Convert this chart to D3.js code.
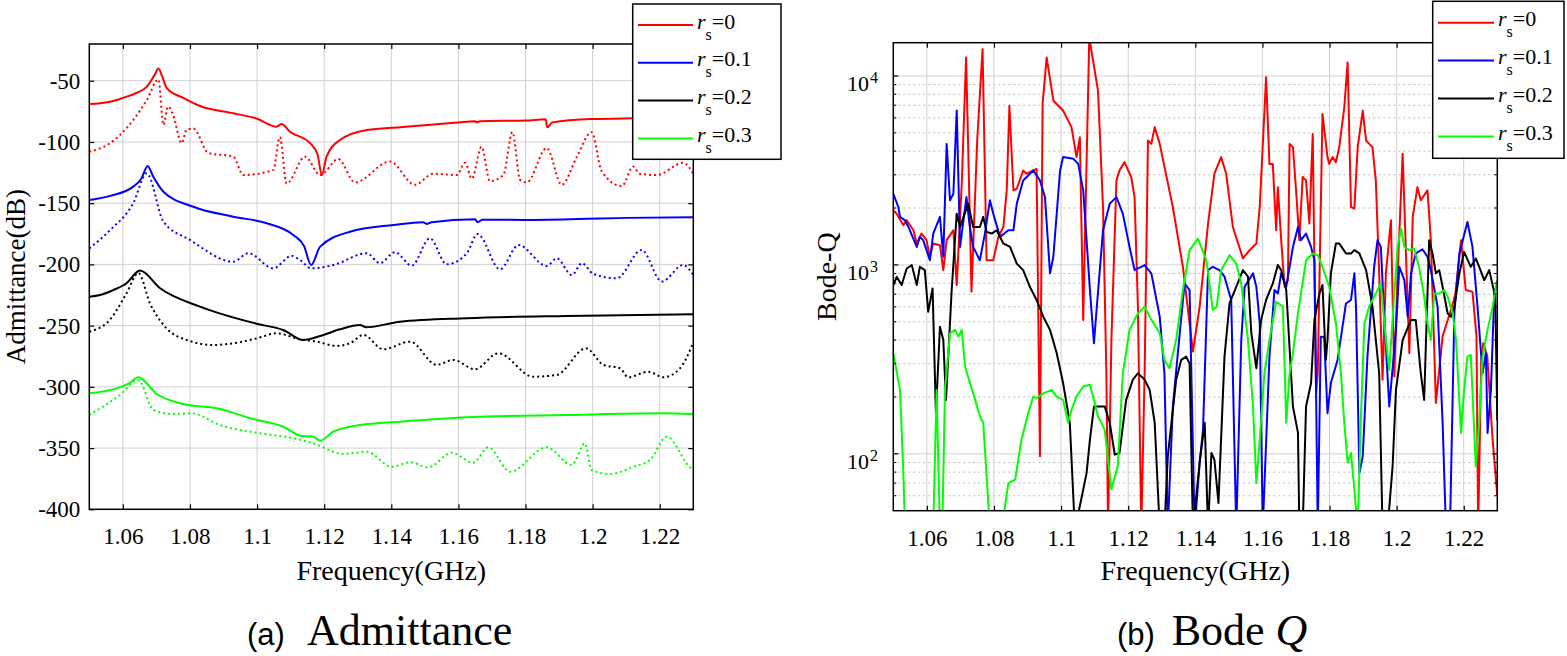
<!DOCTYPE html>
<html>
<head>
<meta charset="utf-8">
<script src="https://cdn.jsdelivr.net/npm/d3@7"></script>
<style>
body { margin: 0; background: #fff; }
</style>
</head>
<body>
<div id="chart"></div>
<script>
// ---- data ----
var freqTicks = [1.06, 1.08, 1.1, 1.12, 1.14, 1.16, 1.18, 1.2, 1.22];
var freqTickLabels = ["1.06", "1.08", "1.1", "1.12", "1.14", "1.16", "1.18", "1.2", "1.22"];
var admTicks = [-400, -350, -300, -250, -200, -150, -100, -50];
var admTickLabels = ["-400", "-350", "-300", "-250", "-200", "-150", "-100", "-50"];
var qTicks = [100, 1000, 10000];
var qTickExp = ["2", "3", "4"];
var rsLabels = ["0", "0.1", "0.2", "0.3"];
var rsColors = ["#ff0000", "#0000ff", "#000000", "#00ff00"];

// (a) admittance, [GHz, dB]; solid and dotted curve per r_s
var adm0 = [[1.05,-69],[1.0532,-68.4],[1.0582,-65.7],[1.06,-64],[1.064,-60],[1.0671,-55],[1.0695,-45],[1.0706,-40],[1.0718,-47],[1.0731,-56],[1.078,-64],[1.083,-70.6],[1.0929,-76.6],[1.1,-81],[1.1058,-87.5],[1.1073,-85.4],[1.1098,-91.6],[1.1158,-101],[1.118,-110],[1.1193,-127],[1.1207,-112],[1.1247,-98.4],[1.1327,-90.2],[1.1426,-88],[1.1625,-83.5],[1.165,-83],[1.1655,-84],[1.1665,-83],[1.18,-82.5],[1.186,-81.5],[1.1865,-88],[1.188,-84],[1.1997,-81.3],[1.215,-80.5],[1.23,-79.4]];
var adm0dot = [[1.05,-108],[1.0562,-101],[1.0631,-82],[1.0671,-66],[1.0706,-49],[1.0721,-86],[1.0735,-71],[1.075,-78],[1.0775,-101],[1.079,-90],[1.081,-89],[1.0855,-109],[1.0929,-112],[1.0959,-127],[1.1048,-123],[1.1068,-96],[1.1088,-134],[1.1143,-112],[1.1188,-127],[1.1242,-114],[1.1292,-133],[1.1396,-116],[1.147,-135],[1.1525,-126],[1.1595,-127],[1.162,-117],[1.164,-130],[1.1669,-104],[1.1694,-132],[1.1734,-127],[1.1761,-92],[1.1784,-131],[1.1804,-133],[1.1863,-105],[1.1908,-135],[1.1953,-112],[1.1997,-92],[1.2027,-124],[1.2087,-136],[1.2121,-120],[1.214,-126],[1.2191,-127],[1.227,-117],[1.23,-126]];
var adm1 = [[1.05,-147.4],[1.0563,-144],[1.0631,-136.5],[1.0655,-130],[1.0674,-119.6],[1.069,-128],[1.0721,-140.6],[1.081,-152.9],[1.0929,-161],[1.1029,-166.4],[1.1108,-176],[1.114,-185],[1.1161,-200.5],[1.1188,-185.5],[1.1277,-173.3],[1.1406,-167.8],[1.1495,-165.5],[1.1505,-167],[1.152,-165.5],[1.165,-163.2],[1.1657,-165.5],[1.1672,-163.5],[1.1823,-163.7],[1.21,-162],[1.23,-161.5]];
var adm1dot = [[1.05,-187],[1.0562,-172],[1.0631,-150],[1.0671,-125.6],[1.0721,-165.1],[1.08,-180],[1.0929,-197.8],[1.0974,-190.9],[1.1048,-203.2],[1.1103,-193],[1.1128,-196.4],[1.1161,-203.2],[1.1227,-200.5],[1.1327,-190.9],[1.1366,-199],[1.1411,-190],[1.1461,-201],[1.1515,-178.7],[1.1565,-199.9],[1.1625,-190.9],[1.1657,-175.2],[1.1724,-204],[1.1779,-184.2],[1.1863,-201.3],[1.1893,-195],[1.1938,-208.7],[1.1968,-199],[1.2002,-207.8],[1.2072,-211.4],[1.2146,-188.2],[1.2206,-214],[1.227,-200.5],[1.23,-208.7]];
var adm2 = [[1.05,-226.4],[1.0532,-225],[1.0572,-220.9],[1.0611,-215.4],[1.0651,-205],[1.0711,-219.5],[1.083,-234.5],[1.0999,-248.5],[1.1078,-253.6],[1.1138,-261.7],[1.1188,-258.5],[1.1247,-253],[1.1307,-249.5],[1.1325,-251.4],[1.1426,-246.8],[1.1625,-244],[1.1923,-242.1],[1.23,-240.8]];
var adm2dot = [[1.05,-255],[1.0562,-245],[1.0611,-223.6],[1.0646,-207],[1.0681,-231.8],[1.073,-252.2],[1.079,-261.7],[1.087,-265.8],[1.0929,-264.4],[1.0999,-260.4],[1.1058,-256.3],[1.1128,-261.2],[1.1178,-263.1],[1.1237,-266.6],[1.1277,-264.4],[1.1317,-257.6],[1.1376,-269.3],[1.1456,-263.1],[1.1535,-282],[1.1585,-278],[1.1649,-285.6],[1.1719,-272.6],[1.1823,-291.7],[1.1893,-290.3],[1.198,-268.5],[1.2032,-282],[1.2082,-284.9],[1.2106,-292.2],[1.2166,-287.6],[1.2211,-292.2],[1.226,-284.9],[1.23,-264]];
var adm3 = [[1.05,-305.3],[1.0591,-300.4],[1.062,-297],[1.0646,-292.2],[1.0701,-305.8],[1.078,-314],[1.088,-317.5],[1.0989,-326.3],[1.1078,-332.6],[1.1133,-340.1],[1.1168,-340.7],[1.1188,-344],[1.1227,-336.6],[1.1307,-331.2],[1.1426,-328.5],[1.1625,-324.9],[1.1923,-323],[1.2206,-321.6],[1.23,-322.2]];
var adm3dot = [[1.05,-323],[1.0591,-306.7],[1.0646,-294.4],[1.0691,-318.9],[1.075,-322.2],[1.0805,-321.6],[1.0889,-331.2],[1.1008,-337.9],[1.1108,-342],[1.1188,-348.3],[1.1203,-350.2],[1.1257,-354.8],[1.1327,-353],[1.1401,-365.3],[1.1456,-361.6],[1.151,-365.7],[1.158,-353.8],[1.1644,-362],[1.1689,-349.4],[1.1754,-369.3],[1.1863,-349.4],[1.1938,-363.8],[1.1977,-346.1],[1.1997,-367.9],[1.2052,-371.2],[1.2121,-365.3],[1.2171,-359.7],[1.2221,-340.7],[1.2295,-366.5],[1.23,-367]];

// (b) Bode Q, [GHz, Q]
var bode0 = [[1.05,1945],[1.051,1867],[1.053,1622],[1.054,1722],[1.056,1525],[1.057,1298],[1.0584,1465],[1.0599,1352],[1.0609,1104],[1.0619,1298],[1.0639,1271],[1.0649,938],[1.0659,1352],[1.0679,1525],[1.0689,782],[1.0704,2690],[1.0717,12540],[1.0733,721],[1.075,4550],[1.0766,13870],[1.0778,1059],[1.0798,1059],[1.0813,1407],[1.0828,1588],[1.0838,2480],[1.0846,6960],[1.0858,2480],[1.0868,2530],[1.0887,3160],[1.0897,3040],[1.0927,3225],[1.0937,97],[1.0945,7110],[1.0957,12540],[1.0977,7400],[1.1006,6560],[1.1031,5360],[1.1046,3720],[1.1056,4740],[1.1066,511],[1.1084,16000],[1.111,8360],[1.1125,2025],[1.1135,267],[1.114,40],[1.115,401],[1.1165,2800],[1.1174,3160],[1.1189,3500],[1.1209,2920],[1.1219,2285],[1.1229,601],[1.1239,40],[1.1249,267],[1.1259,4550],[1.1269,4370],[1.1279,5360],[1.1294,4370],[1.1333,2025],[1.1363,977],[1.1393,348],[1.1413,601],[1.1438,1655],[1.1457,3040],[1.1477,3720],[1.1492,3040],[1.1512,1588],[1.1542,1082],[1.1562,1197],[1.1582,1298],[1.1592,2025],[1.1611,9840],[1.1621,3425],[1.1631,3425],[1.1641,1525],[1.1646,2580],[1.1656,1352],[1.1666,766],[1.1676,830],[1.1681,4370],[1.1691,4200],[1.1701,2380],[1.171,1352],[1.172,2920],[1.173,2800],[1.174,1655],[1.175,4930],[1.176,209],[1.1765,267],[1.1779,6300],[1.1794,3720],[1.1799,3425],[1.1809,3720],[1.1819,3500],[1.1829,4200],[1.1844,6830],[1.1854,11800],[1.1864,2025],[1.1874,1985],[1.1884,4200],[1.1899,6560],[1.1909,4550],[1.1928,4200],[1.1938,2800],[1.1948,902],[1.1958,247],[1.1968,902],[1.1983,1722],[1.1993,257],[1.2003,902],[1.2018,3870],[1.2033,601],[1.2038,341],[1.2048,1795],[1.2062,2580],[1.2072,2200],[1.2092,2480],[1.2102,1352],[1.2117,186],[1.2137,420],[1.2159,556],[1.2175,700],[1.2192,1352],[1.2206,736],[1.2226,720],[1.2238,420],[1.2243,40],[1.2252,300],[1.2258,385],[1.227,330],[1.2286,119],[1.23,60]];
var bode1 = [[1.05,2380],[1.0515,2025],[1.052,1795],[1.0535,1722],[1.0545,1588],[1.057,1245],[1.0579,1407],[1.0589,1352],[1.0609,1059],[1.0619,1465],[1.0639,1795],[1.0649,1104],[1.0659,4370],[1.0669,2200],[1.0679,2380],[1.0689,6560],[1.0699,1245],[1.0718,2285],[1.0728,1588],[1.0738,1245],[1.0758,1059],[1.0773,1465],[1.0788,2200],[1.0798,1867],[1.0818,1407],[1.0843,1525],[1.0858,1525],[1.0868,2110],[1.0887,2800],[1.0917,3160],[1.0937,2800],[1.0952,2285],[1.0967,902],[1.0977,1104],[1.0997,3160],[1.1006,3720],[1.1036,3650],[1.1051,3425],[1.1066,2480],[1.1086,736],[1.1098,385],[1.1105,555],[1.1125,1525],[1.1145,2110],[1.1165,2285],[1.1184,1867],[1.1204,1245],[1.1219,938],[1.1249,998],[1.1269,902],[1.1294,532],[1.1308,267],[1.1318,40],[1.1333,178],[1.1348,341],[1.1368,798],[1.1383,736],[1.1398,40],[1.1413,90],[1.1423,134],[1.1438,938],[1.1452,977],[1.1472,938],[1.1487,866],[1.1507,652],[1.1522,40],[1.1537,401],[1.1547,766],[1.1572,902],[1.1582,766],[1.1592,491],[1.1601,40],[1.1621,327],[1.1636,736],[1.1646,706],[1.1656,902],[1.1671,766],[1.1691,1245],[1.1706,1588],[1.1715,1352],[1.173,1465],[1.1745,1245],[1.1755,1059],[1.1765,40],[1.1774,417],[1.1784,417],[1.1794,164],[1.1804,237],[1.1824,314],[1.1849,625],[1.1864,652],[1.1874,902],[1.1879,601],[1.1889,79],[1.1899,97],[1.1913,327],[1.1933,977],[1.1943,1352],[1.1953,1245],[1.1963,532],[1.1978,178],[1.1998,453],[1.2008,977],[1.2023,830],[1.2033,532],[1.2043,902],[1.2057,1150],[1.2077,1210],[1.2092,1104],[1.2102,938],[1.2122,601],[1.2137,146],[1.2147,40],[1.2159,40],[1.2172,555],[1.2187,1150],[1.2211,1688],[1.2226,1245],[1.2241,601],[1.2256,267],[1.2266,341],[1.2271,129],[1.2281,218],[1.2291,706],[1.23,798]];
var bode2 = [[1.05,782],[1.051,865],[1.0525,782],[1.054,957],[1.0555,998],[1.057,782],[1.0579,977],[1.0594,938],[1.0604,565],[1.0617,751],[1.0627,164],[1.0639,471],[1.0649,401],[1.0657,193],[1.0674,736],[1.0689,1867],[1.0699,1588],[1.0723,2110],[1.0738,1588],[1.0758,1588],[1.0768,1795],[1.0778,1495],[1.0793,1465],[1.0808,1525],[1.0828,1298],[1.0848,1245],[1.0868,1016],[1.0887,938],[1.0907,766],[1.0927,652],[1.0947,532],[1.0967,453],[1.0987,341],[1.1006,237],[1.1026,146],[1.1041,40],[1.1056,53],[1.1076,79],[1.1086,119],[1.1098,178],[1.1115,178],[1.113,178],[1.1145,146],[1.116,99],[1.1174,101],[1.1194,193],[1.1214,247],[1.1229,267],[1.1249,247],[1.1264,218],[1.1279,146],[1.1294,40],[1.1308,40],[1.1318,97],[1.1343,247],[1.1358,314],[1.1373,327],[1.1383,300],[1.1393,40],[1.1413,90],[1.1428,146],[1.1438,40],[1.1448,101],[1.1457,93],[1.1469,55],[1.1487,327],[1.1502,625],[1.1522,766],[1.1542,938],[1.1557,866],[1.1567,435],[1.1582,284],[1.1596,511],[1.1611,652],[1.1631,798],[1.1646,998],[1.1656,938],[1.1671,736],[1.1691,178],[1.1706,129],[1.171,40],[1.172,40],[1.173,178],[1.1745,237],[1.1755,511],[1.177,706],[1.1779,782],[1.1789,314],[1.1794,401],[1.1804,902],[1.1819,1298],[1.1829,1298],[1.1849,1150],[1.1864,1150],[1.1874,1197],[1.1889,1150],[1.1909,938],[1.1928,601],[1.1948,267],[1.1958,40],[1.1973,40],[1.1988,86],[1.1998,218],[1.2018,401],[1.2043,511],[1.2057,511],[1.2072,267],[1.2082,193],[1.2097,1352],[1.2107,1150],[1.2117,902],[1.2127,938],[1.2137,766],[1.2152,555],[1.2162,532],[1.2172,601],[1.2187,902],[1.2201,1172],[1.2221,977],[1.2236,1082],[1.2246,977],[1.2261,830],[1.2276,938],[1.2294,679],[1.23,150]];
var bode3 = [[1.05,341],[1.052,218],[1.053,79],[1.0535,40],[1.0619,40],[1.0629,218],[1.0639,40],[1.0646,40],[1.0654,218],[1.0669,435],[1.0684,453],[1.0694,417],[1.0704,453],[1.0714,289],[1.0738,209],[1.0758,158],[1.0768,146],[1.0788,40],[1.0823,40],[1.0843,70],[1.0863,73],[1.0882,119],[1.0902,164],[1.0917,201],[1.0927,197],[1.0947,209],[1.0972,218],[1.0987,201],[1.1006,193],[1.1021,146],[1.1031,171],[1.1046,201],[1.1066,227],[1.1086,232],[1.1098,193],[1.111,158],[1.113,134],[1.115,65],[1.1169,86],[1.1184,267],[1.1204,453],[1.1229,555],[1.1249,601],[1.1264,532],[1.1294,435],[1.1308,314],[1.1323,284],[1.1343,401],[1.1363,736],[1.1383,1197],[1.1408,1378],[1.1433,1059],[1.1452,578],[1.1464,601],[1.1477,938],[1.1502,1125],[1.1522,1016],[1.1537,798],[1.1557,401],[1.1572,178],[1.1582,70],[1.1592,119],[1.1606,267],[1.1621,401],[1.1641,638],[1.1661,601],[1.1671,146],[1.1681,267],[1.1691,341],[1.1706,555],[1.1715,706],[1.173,1059],[1.175,1150],[1.1765,1125],[1.1779,977],[1.1799,766],[1.1819,491],[1.1834,267],[1.1844,146],[1.1854,90],[1.1864,101],[1.1874,65],[1.1884,40],[1.1894,164],[1.1904,491],[1.1918,601],[1.1938,706],[1.1953,798],[1.1968,401],[1.1978,278],[1.1993,706],[1.2003,1245],[1.2013,1556],[1.2023,1245],[1.2038,1197],[1.2052,1221],[1.2067,977],[1.2082,679],[1.2092,491],[1.2102,401],[1.2112,706],[1.2127,706],[1.2142,736],[1.2152,679],[1.2167,555],[1.2177,401],[1.2192,129],[1.2201,218],[1.2211,327],[1.2221,334],[1.2236,86],[1.2246,146],[1.2256,327],[1.2271,453],[1.2286,601],[1.23,830]];

var admSolid = [adm0, adm1, adm2, adm3];
var admDotted = [adm0dot, adm1dot, adm2dot, adm3dot];
var bodeSeries = [bode0, bode1, bode2, bode3];

var serifFont = "'Liberation Serif', 'Times New Roman', 'DejaVu Serif', serif";
var sansFont = "'Liberation Sans', Arial, 'DejaVu Sans', sans-serif";

// ---- svg ----
var svg = d3.select("#chart").append("svg")
    .attr("width", 1567)
    .attr("height", 656)
    .style("background", "#fff")
    .style("font-family", serifFont);

var gridColor = "#d0d0d0";

//<------ (a) Admittance ------>
var xA = d3.scaleLinear().domain([1.05, 1.23]).range([89.3, 693.3]);
var yA = d3.scaleLinear().domain([-400, -20]).range([509.3, 44]);

var defs = svg.append("defs");
defs.append("clipPath").attr("id", "clipA").append("rect")
    .attr("x", 89.3).attr("y", 44).attr("width", 604).attr("height", 465.3);
defs.append("clipPath").attr("id", "clipB").append("rect")
    .attr("x", 893.3).attr("y", 42.7).attr("width", 604).attr("height", 468);

var gA = svg.append("g");

gA.append("g").selectAll("line")
    .data(freqTicks).enter().append("line")
    .attr("x1", function(d) { return xA(d); })
    .attr("x2", function(d) { return xA(d); })
    .attr("y1", yA(-20)).attr("y2", yA(-400))
    .style("stroke", gridColor).style("stroke-width", 1);

gA.append("g").selectAll("line")
    .data(admTicks).enter().append("line")
    .attr("x1", xA(1.05)).attr("x2", xA(1.23))
    .attr("y1", function(d) { return yA(d); })
    .attr("y2", function(d) { return yA(d); })
    .style("stroke", gridColor).style("stroke-width", 1);

var lineA = d3.line()
    .curve(d3.curveMonotoneX)
    .x(function(d) { return xA(d[0]); })
    .y(function(d) { return yA(d[1]); });

var plotA = gA.append("g").attr("clip-path", "url(#clipA)");

plotA.selectAll(".dot")
    .data(admDotted).enter().append("path")
    .attr("d", lineA)
    .style("fill", "none")
    .style("stroke", function(d, i) { return rsColors[i]; })
    .style("stroke-width", 2)
    .style("stroke-dasharray", "2,3");

plotA.selectAll(".sol")
    .data(admSolid).enter().append("path")
    .attr("d", lineA)
    .style("fill", "none")
    .style("stroke", function(d, i) { return rsColors[i]; })
    .style("stroke-width", 2);

// axes with inward ticks
var axB = gA.append("g").attr("transform", "translate(0," + yA(-400) + ")")
    .call(d3.axisBottom(xA).tickValues(freqTicks)
        .tickFormat(function(d, i) { return freqTickLabels[i]; })
        .tickSize(-5).tickPadding(18));
var axL = gA.append("g").attr("transform", "translate(" + xA(1.05) + ",0)")
    .call(d3.axisLeft(yA).tickValues(admTicks)
        .tickFormat(function(d, i) { return admTickLabels[i]; })
        .tickSize(-5).tickPadding(9));
gA.append("g").attr("transform", "translate(0," + yA(-20) + ")")
    .call(d3.axisTop(xA).tickValues(freqTicks).tickFormat("").tickSize(-5));
gA.append("g").attr("transform", "translate(" + xA(1.23) + ",0)")
    .call(d3.axisRight(yA).tickValues(admTicks).tickFormat("").tickSize(-5));
gA.selectAll(".domain").remove();
gA.selectAll(".tick line").style("stroke", "#000").style("stroke-width", 1.2);
axB.selectAll("text").style("font-size", "23px");
axL.selectAll("text").style("font-size", "23px");

gA.append("rect")
    .attr("x", xA(1.05)).attr("y", yA(-20))
    .attr("width", xA(1.23) - xA(1.05)).attr("height", yA(-400) - yA(-20))
    .style("fill", "none").style("stroke", "#000").style("stroke-width", 1.5);

gA.append("text")
    .attr("x", (xA(1.05) + xA(1.23)) / 2).attr("y", 580)
    .attr("text-anchor", "middle").style("font-size", "28px")
    .text("Frequency(GHz)");
gA.append("text")
    .attr("transform", "translate(25," + (yA(-20) + yA(-400)) / 2 + ") rotate(-90)")
    .attr("text-anchor", "middle").style("font-size", "27px")
    .text("Admittance(dB)");

//<------ (b) Bode Q ------>
var xB = d3.scaleLinear().domain([1.05, 1.23]).range([893.3, 1497.3]);
var yB = d3.scaleLog().domain([50, 15000]).range([510.7, 42.7]);

var qMinor = [];
[10, 100, 1000].forEach(function(dec) {
    for (var k = 2; k <= 9; k++) {
        var v = k * dec;
        if (v > 50 && v < 15000) qMinor.push(v);
    }
});

var gB = svg.append("g");

gB.append("g").selectAll("line")
    .data(qMinor).enter().append("line")
    .attr("x1", xB(1.05)).attr("x2", xB(1.23))
    .attr("y1", function(d) { return yB(d); })
    .attr("y2", function(d) { return yB(d); })
    .style("stroke", "#bcbcbc").style("stroke-width", 1)
    .style("stroke-dasharray", "2,3");

gB.append("g").selectAll("line")
    .data(freqTicks).enter().append("line")
    .attr("x1", function(d) { return xB(d); })
    .attr("x2", function(d) { return xB(d); })
    .attr("y1", yB(15000)).attr("y2", yB(50))
    .style("stroke", gridColor).style("stroke-width", 1);

gB.append("g").selectAll("line")
    .data(qTicks).enter().append("line")
    .attr("x1", xB(1.05)).attr("x2", xB(1.23))
    .attr("y1", function(d) { return yB(d); })
    .attr("y2", function(d) { return yB(d); })
    .style("stroke", gridColor).style("stroke-width", 1);

var lineB = d3.line()
    .x(function(d) { return xB(d[0]); })
    .y(function(d) { return yB(d[1]); });

gB.append("g").attr("clip-path", "url(#clipB)")
    .selectAll("path")
    .data(bodeSeries).enter().append("path")
    .attr("d", lineB)
    .style("fill", "none")
    .style("stroke", function(d, i) { return rsColors[i]; })
    .style("stroke-width", 2)
    .style("stroke-linejoin", "round");

var axBB = gB.append("g").attr("transform", "translate(0," + yB(50) + ")")
    .call(d3.axisBottom(xB).tickValues(freqTicks)
        .tickFormat(function(d, i) { return freqTickLabels[i]; })
        .tickSize(-5).tickPadding(19));
gB.append("g").attr("transform", "translate(0," + yB(15000) + ")")
    .call(d3.axisTop(xB).tickValues(freqTicks).tickFormat("").tickSize(-5));
[xB(1.05), xB(1.23)].forEach(function(xx, side) {
    var dir = side === 0 ? 1 : -1;
    gB.append("g").selectAll("line").data(qTicks).enter().append("line")
        .attr("x1", xx).attr("x2", xx + dir * 5)
        .attr("y1", function(d) { return yB(d); }).attr("y2", function(d) { return yB(d); })
        .style("stroke", "#000").style("stroke-width", 1.2);
    gB.append("g").selectAll("line").data(qMinor).enter().append("line")
        .attr("x1", xx).attr("x2", xx + dir * 3)
        .attr("y1", function(d) { return yB(d); }).attr("y2", function(d) { return yB(d); })
        .style("stroke", "#000").style("stroke-width", 1);
});
gB.selectAll(".domain").remove();
gB.selectAll(".tick line").style("stroke", "#000").style("stroke-width", 1.2);
axBB.selectAll("text").style("font-size", "23px");

// 10^n labels
var qLab = gB.append("g").selectAll("g").data(qTicks).enter().append("g");
qLab.append("text")
    .attr("x", 869).attr("y", function(d) { return yB(d) + 15.5; })
    .attr("text-anchor", "end").style("font-size", "22px")
    .text("10");
qLab.append("text")
    .attr("x", 870).attr("y", function(d) { return yB(d) + 7.4; })
    .style("font-size", "16px")
    .text(function(d, i) { return qTickExp[i]; });

gB.append("rect")
    .attr("x", xB(1.05)).attr("y", yB(15000))
    .attr("width", xB(1.23) - xB(1.05)).attr("height", yB(50) - yB(15000))
    .style("fill", "none").style("stroke", "#000").style("stroke-width", 1.5);

gB.append("text")
    .attr("x", (xB(1.05) + xB(1.23)) / 2).attr("y", 580)
    .attr("text-anchor", "middle").style("font-size", "28px")
    .text("Frequency(GHz)");
gB.append("text")
    .attr("transform", "translate(836," + (yB(15000) + yB(50)) / 2 + ") rotate(-90)")
    .attr("text-anchor", "middle").style("font-size", "28px")
    .text("Bode-Q");

//<------ legends ------>
function legend(x0, y0, w, h, lx1, lx2, tx, rowY, gap) {
    var g = svg.append("g");
    g.append("rect").attr("x", x0).attr("y", y0).attr("width", w).attr("height", h)
        .style("fill", "#fff").style("stroke", "#000").style("stroke-width", 1.5);
    var row = g.selectAll(".row").data(rsLabels).enter().append("g");
    row.append("line")
        .attr("x1", lx1).attr("x2", lx2)
        .attr("y1", function(d, i) { return rowY + i * gap; })
        .attr("y2", function(d, i) { return rowY + i * gap; })
        .style("stroke", function(d, i) { return rsColors[i]; })
        .style("stroke-width", 2);
    var t = row.append("text")
        .attr("x", tx)
        .attr("y", function(d, i) { return rowY + i * gap + 3.5; })
        .style("font-size", "22px");
    t.append("tspan").style("font-style", "italic").text("r");
    t.append("tspan").attr("dy", 11).style("font-size", "16px").text("s");
    t.append("tspan").attr("dy", -11).text(function(d) { return "=" + d; });
}
legend(632.7, 4, 148.3, 155.3, 638, 693, 697, 25, 37.8);
legend(1432.7, 1.3, 131.3, 157, 1438, 1494, 1498, 22.7, 37.9);

// every text serif (d3 axes put sans-serif on their groups)
svg.selectAll("text").style("font-family", serifFont).style("fill", "#000");

//<------ captions ------>
svg.append("text").attr("x", 247).attr("y", 645)
    .style("font-family", sansFont).style("font-size", "31px")
    .text("(a)");
svg.append("text").attr("x", 307).attr("y", 645)
    .style("font-family", serifFont).style("font-size", "44px")
    .text("Admittance");
svg.append("text").attr("x", 1117).attr("y", 645)
    .style("font-family", sansFont).style("font-size", "31px")
    .text("(b)");
var capB = svg.append("text").attr("x", 1171.7).attr("y", 645)
    .style("font-family", serifFont).style("font-size", "44px");
capB.append("tspan").text("Bode ");
capB.append("tspan").style("font-style", "italic").text("Q");
</script>
</body>
</html>
